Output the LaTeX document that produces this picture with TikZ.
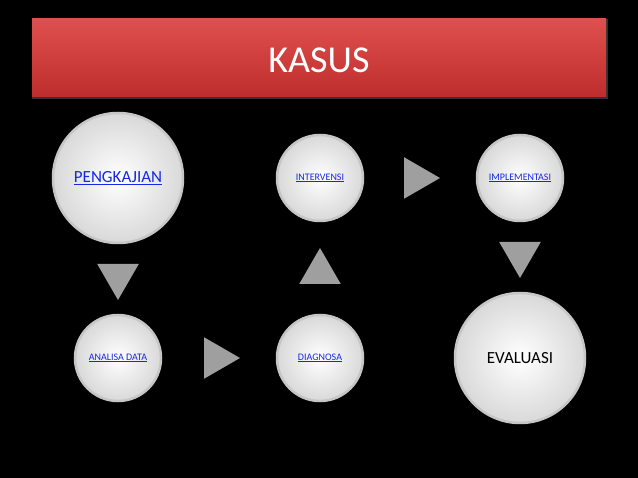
\documentclass[tikz,border=0pt]{standalone}
\usepackage{fontspec}
\setmainfont{Carlito}
\usetikzlibrary{shapes.geometric}
\definecolor{lnk}{RGB}{20,40,230}
\tikzset{
 x=1pt,y=-1pt,
 bubble/.style={circle,draw=gray!45,line width=2.5pt,inner color=white,outer color=gray!30,inner sep=0pt},
 big/.style={bubble,minimum size=130pt},
 small/.style={bubble,minimum size=86pt},
 tri/.style={regular polygon,regular polygon sides=3,fill=gray!75,draw=none,minimum size=48pt,inner sep=0pt},
 lbl/.style={text=lnk,font=\fontsize{10}{11}\selectfont},
}
\newcommand{\lk}[1]{\underline{#1}}
\begin{document}
\begin{tikzpicture}
\fill[black] (0,0) rectangle (638,478);
\useasboundingbox (0,0) rectangle (638,478);
\node[fill=gray!40!black,minimum width=576pt,minimum height=80pt,inner sep=0pt] at (320,59) {};
\node[top color={rgb,255:red,222;green,80;blue,78},bottom color={rgb,255:red,190;green,45;blue,45},minimum width=574pt,minimum height=78pt,inner sep=0pt] (banner) at (319,58) {};
\node[text=white,font=\fontsize{38}{42}\selectfont] (title) at (319,60) {KASUS};
\node[big] (peng) at (118,178) {};
\node[text=lnk,font=\fontsize{17}{19}\selectfont] at (peng) {\lk{PENGKAJIAN}};
\node[small] (inter) at (320,178) {};
\node[lbl] at (inter) {\lk{INTERVENSI}};
\node[small] (impl) at (520,178) {};
\node[lbl] at (impl) {\lk{IMPLEMENTASI}};
\node[small] (anal) at (118,358) {};
\node[lbl] at (anal) {\lk{ANALISA DATA}};
\node[small] (diag) at (320,358) {};
\node[lbl] at (diag) {\lk{DIAGNOSA}};
\node[big] (eval) at (520,358) {};
\node[font=\fontsize{17}{19}\selectfont] at (eval) {EVALUASI};
\node[tri,shape border rotate=180] (t1) at (118,276) {};
\node[tri,shape border rotate=-90] (t2) at (216,358) {};
\node[tri] (t3) at (320,272) {};
\node[tri,shape border rotate=-90] (t4) at (416,178) {};
\node[tri,shape border rotate=180] (t5) at (520,254) {};
\end{tikzpicture}
\end{document}
